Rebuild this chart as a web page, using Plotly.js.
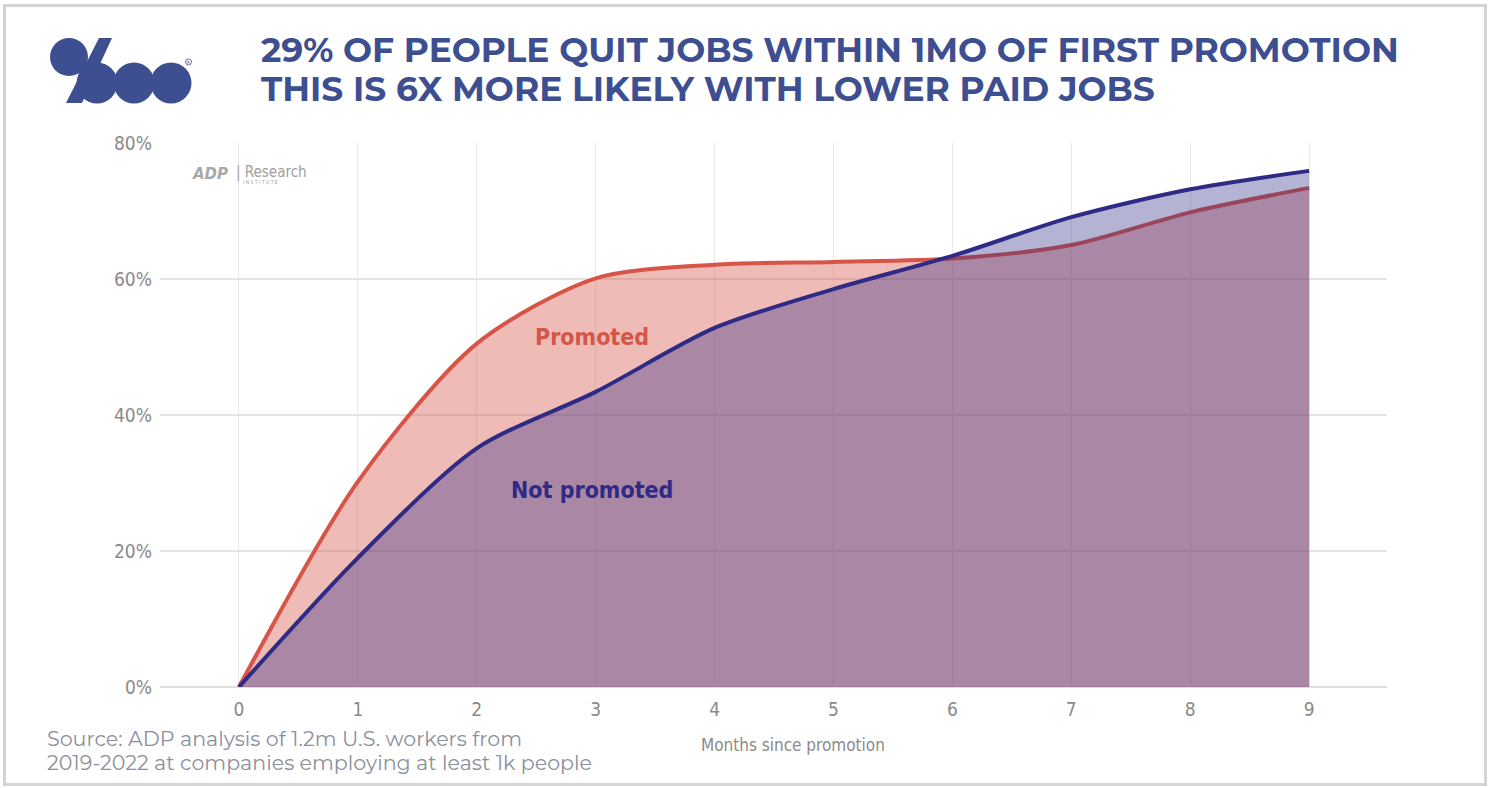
<!DOCTYPE html>
<html>
<head>
<meta charset="utf-8">
<script src="https://cdn.plot.ly/plotly-3.0.1.min.js"></script>
<style>
  html, body { margin: 0; padding: 0; background: #fff; }
  #wrap { position: relative; width: 1490px; height: 788px; overflow: hidden; }
  #chart { position: absolute; left: 0; top: 0; width: 1490px; height: 788px; }
  #frame { position: absolute; left: 3px; top: 4px; width: 1478px; height: 776px; border: 3px solid #d4d4d4; pointer-events: none; }
  #logo { position: absolute; left: 0; top: 0; pointer-events: none; }
</style>
</head>
<body>
<div id="wrap">
  <div id="chart"></div>
  <svg id="logo" width="220" height="120">
    <g fill="#3d4f91">
      <circle cx="69" cy="57" r="19"/>
      <polygon points="99,38 112,38 82,103 66,103"/>
      <circle cx="97" cy="83" r="20.5"/>
      <circle cx="134" cy="83" r="20.5"/>
      <circle cx="171" cy="83" r="20.5"/>
    </g>
    <circle cx="188.5" cy="62" r="3" fill="none" stroke="#3d4f91" stroke-width="0.8"/>
    <text x="188.5" y="63.6" font-size="4" text-anchor="middle" fill="#3d4f91" font-family="DejaVu Sans">R</text>
  </svg>
  <div id="frame"></div>
</div>
<script>
const months = [0, 1, 2, 3, 4, 5, 6, 7, 8, 9];
const promoted = [0, 30.2, 50.5, 60.1, 62.1, 62.5, 63.0, 65.0, 69.8, 73.4];
const notPromoted = [0, 19.0, 35.1, 43.4, 52.8, 58.5, 63.4, 69.1, 73.2, 75.9];
const yTickVals = [0, 20, 40, 60, 80];
const yTickText = ['0%', '20%', '40%', '60%', '80%'];
const titleLines = ['29% OF PEOPLE QUIT JOBS WITHIN 1MO OF FIRST PROMOTION', 'THIS IS 6X MORE LIKELY WITH LOWER PAID JOBS'];
const sourceLines = ['Source: ADP analysis of 1.2m U.S. workers from', '2019-2022 at companies employing at least 1k people'];
const xTitle = 'Months since promotion';

const condensed = '"DejaVu Sans Condensed", "Liberation Sans Narrow", "Roboto", sans-serif';
const PW = 1227, PH = 544, PL = 160, PB = 687;
const px = v => (v - PL) / PW;
const py = v => (PB - v) / PH;

const traces = [
  {
    x: months, y: promoted, type: 'scatter', mode: 'lines', name: 'Promoted',
    line: { color: '#d65548', width: 4, shape: 'spline', smoothing: 0.8 },
    fill: 'tozeroy', fillcolor: 'rgba(214,85,72,0.40)', hoverinfo: 'skip'
  },
  {
    x: months, y: notPromoted, type: 'scatter', mode: 'lines', name: 'Not promoted',
    line: { color: '#2e2a85', width: 4, shape: 'spline', smoothing: 0.8 },
    fill: 'tozeroy', fillcolor: 'rgba(46,42,133,0.355)', hoverinfo: 'skip'
  }
];

const layout = {
  width: 1490, height: 788,
  margin: { l: 160, r: 103, t: 143, b: 101 },
  paper_bgcolor: '#ffffff', plot_bgcolor: '#ffffff',
  showlegend: false,
  xaxis: {
    range: [-0.664, 9.655], tickvals: months, ticktext: months.map(String),
    showgrid: true, gridcolor: '#e8e8e8', gridwidth: 1, zeroline: false,
    showline: false, ticks: '', ticklabelstandoff: 9,
    tickfont: { family: condensed, size: 19, color: '#8a8a8a' }
  },
  yaxis: {
    range: [0, 80], tickvals: yTickVals, ticktext: yTickText,
    showgrid: true, gridcolor: '#e3e3e3', gridwidth: 1.5, zeroline: true, zerolinecolor: '#dedede', zerolinewidth: 2,
    showline: false, ticks: '', ticklabelstandoff: 7,
    tickfont: { family: condensed, size: 19, color: '#8a8a8a' }
  },
  annotations: [
    { xref: 'paper', yref: 'paper', x: px(259), y: py(50), xanchor: 'left', yanchor: 'middle',
      text: '<b>' + titleLines[0] + '</b>', showarrow: false,
      font: { family: 'Montserrat, "Open Sans", sans-serif', size: 34.4, color: '#3d4f91' } },
    { xref: 'paper', yref: 'paper', x: px(259), y: py(89), xanchor: 'left', yanchor: 'middle',
      text: '<b>' + titleLines[1] + '</b>', showarrow: false,
      font: { family: 'Montserrat, "Open Sans", sans-serif', size: 34.4, color: '#3d4f91' } },
    { x: 2.97, y: 51.5, text: '<b>Promoted</b>', showarrow: false, xanchor: 'center', yanchor: 'middle',
      font: { family: condensed, size: 23, color: '#d1574a' } },
    { x: 2.97, y: 29, text: '<b>Not promoted</b>', showarrow: false, xanchor: 'center', yanchor: 'middle',
      font: { family: condensed, size: 23, color: '#2e2a85' } },
    { xref: 'paper', yref: 'paper', x: px(793), y: py(745), xanchor: 'center', yanchor: 'middle',
      text: xTitle, showarrow: false,
      font: { family: condensed, size: 17, color: '#8a8a8a' } },
    { xref: 'paper', yref: 'paper', x: px(190), y: py(174), xanchor: 'left', yanchor: 'middle',
      text: '<b><i>ADP</i></b>', showarrow: false,
      font: { family: '"DejaVu Sans", sans-serif', size: 15, color: '#a8a8a8' } },
    { xref: 'paper', yref: 'paper', x: px(234), y: py(172), xanchor: 'left', yanchor: 'middle',
      text: '| Research', showarrow: false,
      font: { family: condensed, size: 15, color: '#a0a0a0' } },
    { xref: 'paper', yref: 'paper', x: px(241), y: py(182), xanchor: 'left', yanchor: 'middle',
      text: 'I N S T I T U T E', showarrow: false,
      font: { family: condensed, size: 5, color: '#a0a0a0' } },
    { xref: 'paper', yref: 'paper', x: px(45), y: py(738), xanchor: 'left', yanchor: 'middle',
      text: sourceLines[0], showarrow: false,
      font: { family: 'Montserrat, "Open Sans", sans-serif', size: 20.6, color: '#8c909c' } },
    { xref: 'paper', yref: 'paper', x: px(45), y: py(762), xanchor: 'left', yanchor: 'middle',
      text: sourceLines[1], showarrow: false,
      font: { family: 'Montserrat, "Open Sans", sans-serif', size: 20.6, color: '#8c909c' } }
  ]
};

Plotly.newPlot('chart', traces, layout, { displayModeBar: false, staticPlot: true });
</script>
</body>
</html>
